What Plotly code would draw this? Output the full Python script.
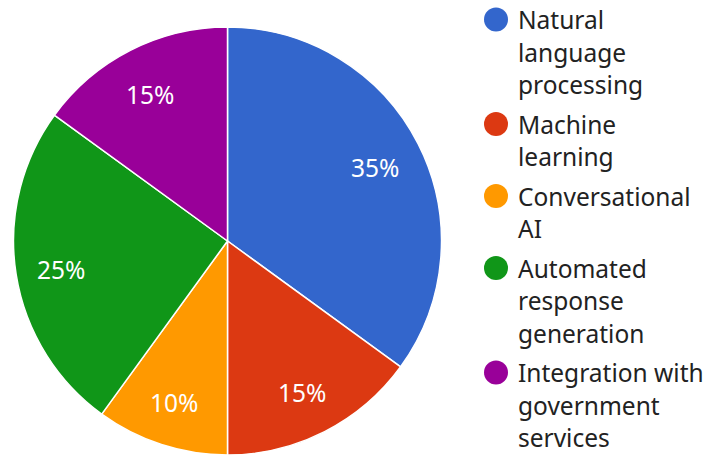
import math
import plotly.graph_objects as go

categories = ["Natural language processing", "Machine learning", "Conversational AI",
              "Automated response generation", "Integration with government services"]
legend_lines = [["Natural", "language", "processing"],
                ["Machine", "learning"],
                ["Conversational", "AI"],
                ["Automated", "response", "generation"],
                ["Integration with", "government", "services"]]
values = [35, 15, 10, 25, 15]
colors = ["#3366cc", "#dc3912", "#ff9900", "#109618", "#990099"]

W, H = 707, 455
FONT = "Noto Sans"
FS = 24.5

# pie geometry (pixels)
PX0, PX1 = 13.5, 441.5
PY0, PY1 = 27, 455
cx, cy = (PX0 + PX1) / 2, (PY0 + PY1) / 2
R = (PX1 - PX0) / 2

fig = go.Figure()
fig.add_trace(go.Pie(
    labels=categories, values=values, sort=False, direction="clockwise", rotation=0,
    marker=dict(colors=colors, line=dict(color="white", width=1.5)),
    textinfo="none", textposition="none",
    domain=dict(x=[PX0 / W, PX1 / W], y=[(H - PY1) / H, (H - PY0) / H]),
    showlegend=False, hoverinfo="label+percent",
))

ann = []
# percentage labels placed along slice bisectors
total = sum(values)
cum = 0
lx, ly = cx - 1.5, cy + 2.7
for v in values:
    mid = (cum + v / 2) / total * 2 * math.pi
    cum += v
    r = 0.78 * R
    ann.append(dict(x=lx + r * math.sin(mid), y=ly - r * math.cos(mid), xref="x", yref="y",
                    text=f"{round(v / total * 100)}%", showarrow=False,
                    xanchor="center", yanchor="middle",
                    font=dict(family=FONT, size=FS, color="white")))

# custom legend with circular markers
line_gap = 32.5
item_gap = 39.5
baseline = 28
marker_y = []
for lines in legend_lines:
    marker_y.append(baseline - 8.5)
    for k, t in enumerate(lines):
        ann.append(dict(x=516, y=baseline + k * line_gap - 8.5, xref="x", yref="y",
                        text=t, showarrow=False, xanchor="left", yanchor="middle",
                        font=dict(family=FONT, size=FS, color="#222222")))
    baseline += (len(lines) - 1) * line_gap + item_gap

fig.add_trace(go.Scatter(
    x=[496] * len(categories), y=marker_y, mode="markers",
    marker=dict(symbol="circle", size=24, color=colors, line=dict(width=0)),
    hovertext=categories, hoverinfo="text", showlegend=False, cliponaxis=False,
))

fig.update_layout(
    width=W, height=H, margin=dict(l=0, r=0, t=0, b=0),
    paper_bgcolor="white", plot_bgcolor="rgba(0,0,0,0)",
    xaxis=dict(range=[0, W], visible=False, fixedrange=True, domain=[0, 1]),
    yaxis=dict(range=[H, 0], visible=False, fixedrange=True, domain=[0, 1]),
    annotations=ann, showlegend=False,
)

fig.write_html("out.html", config={"displayModeBar": False},
               post_script="document.body.style.margin='0';")
